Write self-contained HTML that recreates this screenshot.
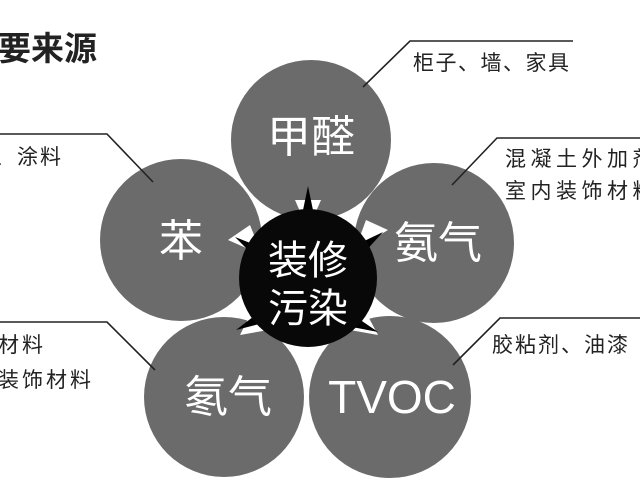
<!DOCTYPE html>
<html><head><meta charset="utf-8"><style>
html,body{margin:0;padding:0;background:#fff;}
svg{display:block;}
text{font-family:"Liberation Sans","Noto Sans CJK SC",sans-serif;}
</style></head><body>
<svg width="640" height="499" viewBox="0 0 640 499" xmlns="http://www.w3.org/2000/svg">
<rect width="640" height="499" fill="#fff"/>
<text x="-2" y="60" font-size="33" font-weight="bold" fill="#222">要来源</text>
<g fill="#6b6b6b">
<circle cx="311" cy="140" r="80"/>
<circle cx="181" cy="240" r="81"/>
<circle cx="434" cy="243" r="80"/>
<circle cx="224" cy="397" r="80"/>
<circle cx="390" cy="397" r="81"/>
</g>
<g fill="#fff">
<polygon points="295,200 321,200 308,230"/>
<polygon points="228,240 250,225 262,255"/>
<polygon points="388,230 366,220 355,250"/>
<polygon points="240,335 255,305 268,330"/>
<polygon points="378,335 362,305 350,330"/>
</g>
<g fill="#000">
<polygon points="308,186 302,215 314,215"/>
<polygon points="235,237 258,246 254,256"/>
<polygon points="383,232 360,243 364,253"/>
<polygon points="236,330 258,313 263,323"/>
<polygon points="378,332 356,317 352,327"/>
</g>
<circle cx="308" cy="278" r="69" fill="#080808"/>
<g fill="#fff" font-size="40" text-anchor="middle">
<text x="308" y="274">装修</text>
<text x="308" y="322">污染</text>
</g>
<g fill="#fff" font-size="44" text-anchor="middle">
<text x="311" y="152">甲醛</text>
<text x="181" y="256">苯</text>
<text x="438" y="258">氨气</text>
<text x="228" y="412">氡气</text>
<text x="392" y="413" font-size="46">TVOC</text>
</g>
<g stroke="#222" stroke-width="1.6" fill="none">
<polyline points="363,87 410,41 573,41"/>
<polyline points="153,182 107,134 0,134"/>
<polyline points="452,185 497,138 640,138"/>
<polyline points="155,370 107,322 0,322"/>
<polyline points="453,365 500,318 640,318"/>
</g>
<g fill="#222" font-size="21">
<text x="413" y="70" letter-spacing="1.5">柜子、墙、家具</text>
<text x="-6" y="164" letter-spacing="2">、涂料</text>
<text x="505" y="166" letter-spacing="4.5">混凝土外加剂</text>
<text x="505" y="198" letter-spacing="4.5">室内装饰材料</text>
<text x="-2" y="352" letter-spacing="3">材料</text>
<text x="-2" y="387" letter-spacing="3">装饰材料</text>
<text x="492" y="352" letter-spacing="2">胶粘剂、油漆</text>
</g>
</svg>
</body></html>
